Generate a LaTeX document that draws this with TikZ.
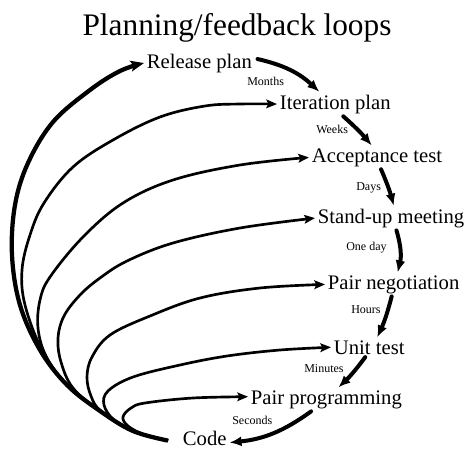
\documentclass[tikz,border=0pt]{standalone}
\usepackage{fontspec}
\setmainfont{Liberation Serif}
\usepackage{tikz}
\usetikzlibrary{arrows.meta}

\tikzset{
  stage/.style={anchor=base west, inner sep=2pt, font=\fontsize{15.5}{18}\selectfont},
  span/.style={anchor=base west, inner sep=0pt, font=\fontsize{9}{11}\selectfont},
  planarrow/.style={line width=3pt, line cap=round, -{Latex[length=9pt,width=7.5pt]}},
  feedback/.style={line width=2pt, smooth, tension=0.6, -{Stealth[length=8pt,width=6.5pt,inset=1.5pt]}},
}

\begin{document}
\begin{tikzpicture}[x=0.75pt, y=-0.75pt]
            \useasboundingbox (0,0) rectangle (474,457);

            \node[anchor=base, font=\fontsize{23.5}{28}\selectfont] (title) at (237,35) {Planning/feedback loops};

            % stages
            \node[stage] (rel) at (144,68) {Release plan};
            \node[stage] (iter) at (277,109) {Iteration plan};
            \node[stage] (acc) at (309,162) {Acceptance test};
            \node[stage] (stand) at (315,223) {Stand-up meeting};
            \node[stage] (neg) at (325,289) {Pair negotiation};
            \node[stage] (unit) at (331,354) {Unit test};
            \node[stage] (pp) at (248,404) {Pair programming};
            \node[stage] (code) at (180,445) {Code};

            % time spans
            \node[span] (months) at (247,85) {Months};
            \node[span] (weeks) at (316,133) {Weeks};
            \node[span] (days) at (356,190) {Days};
            \node[span] (oneday) at (346,250) {One day};
            \node[span] (hours) at (351,313) {Hours};
            \node[span] (minutes) at (304,372) {Minutes};
            \node[span] (seconds) at (232,424) {Seconds};

            % planning
            \draw[planarrow] ([xshift=2pt,yshift=3pt]rel.east) to[bend left=15] ([xshift=-12pt]iter.north);
            \draw[planarrow] ([xshift=6pt]iter.south) to[bend left=4] ([xshift=-4pt]acc.north);
            \draw[planarrow] ([xshift=3pt]acc.south) to[bend left=4] ([xshift=2pt]stand.north);
            \draw[planarrow] ([xshift=4pt]stand.south) to[bend left=15] ([xshift=3pt]neg.north);
            \draw[planarrow] ([xshift=-1.5pt]neg.south) to[bend left=5] ([xshift=6pt]unit.north);
            \draw[planarrow] ([xshift=-3pt]unit.south) to[bend left=5] ([xshift=9pt]pp.north);
            \draw[planarrow] ([xshift=-11.5pt]pp.south) to[bend left=15] ([yshift=-3.5pt]code.east);

            % feedback
            \coordinate (src) at ([xshift=-9pt,yshift=-2pt]code.west);
            \draw[feedback, line width=3.2pt, -{Stealth[length=10pt,width=8pt,inset=2pt]}] plot coordinates {(src) (133,431) (100,411) (67,385) (40,350) (20,305) (12,255) (15,205) (28,163) (53,122) (90,90) (120,71) (rel.west)};
            \draw[feedback] plot coordinates {(src) (133,431) (100,411) (67,385) (42,350) (25,305) (22,270) (30,235) (44,203) (73,167) (113,140) (160,117) (205,106) (240,104) (iter.west)};
            \draw[feedback] plot coordinates {(src) (133,431) (100,411) (67,385) (46,356) (38,328) (40,300) (50,277) (83,237) (123,203) (173,180) (240,165) (acc.west)};
            \draw[feedback] plot coordinates {(src) (133,431) (100,411) (73,388) (61,362) (58,338) (64,316) (80,295) (100,278) (127,261) (173,243) (240,228) (stand.west)};
            \draw[feedback] plot coordinates {(src) (133,431) (101,411) (91,396) (87,377) (92,357) (110,335) (150,316) (200,298) (260,288) (neg.west)};
            \draw[feedback] plot coordinates {(src) (133,431) (114,420) (104,405) (108,391) (133,377) (180,365) (227,356) (280,350) (unit.west)};
            \draw[feedback] plot coordinates {(src) (145,435) (128,426) (123,417) (131,408) (145,403) (193,398) ([yshift=2pt]pp.west)};
        \end{tikzpicture}
\end{document}
